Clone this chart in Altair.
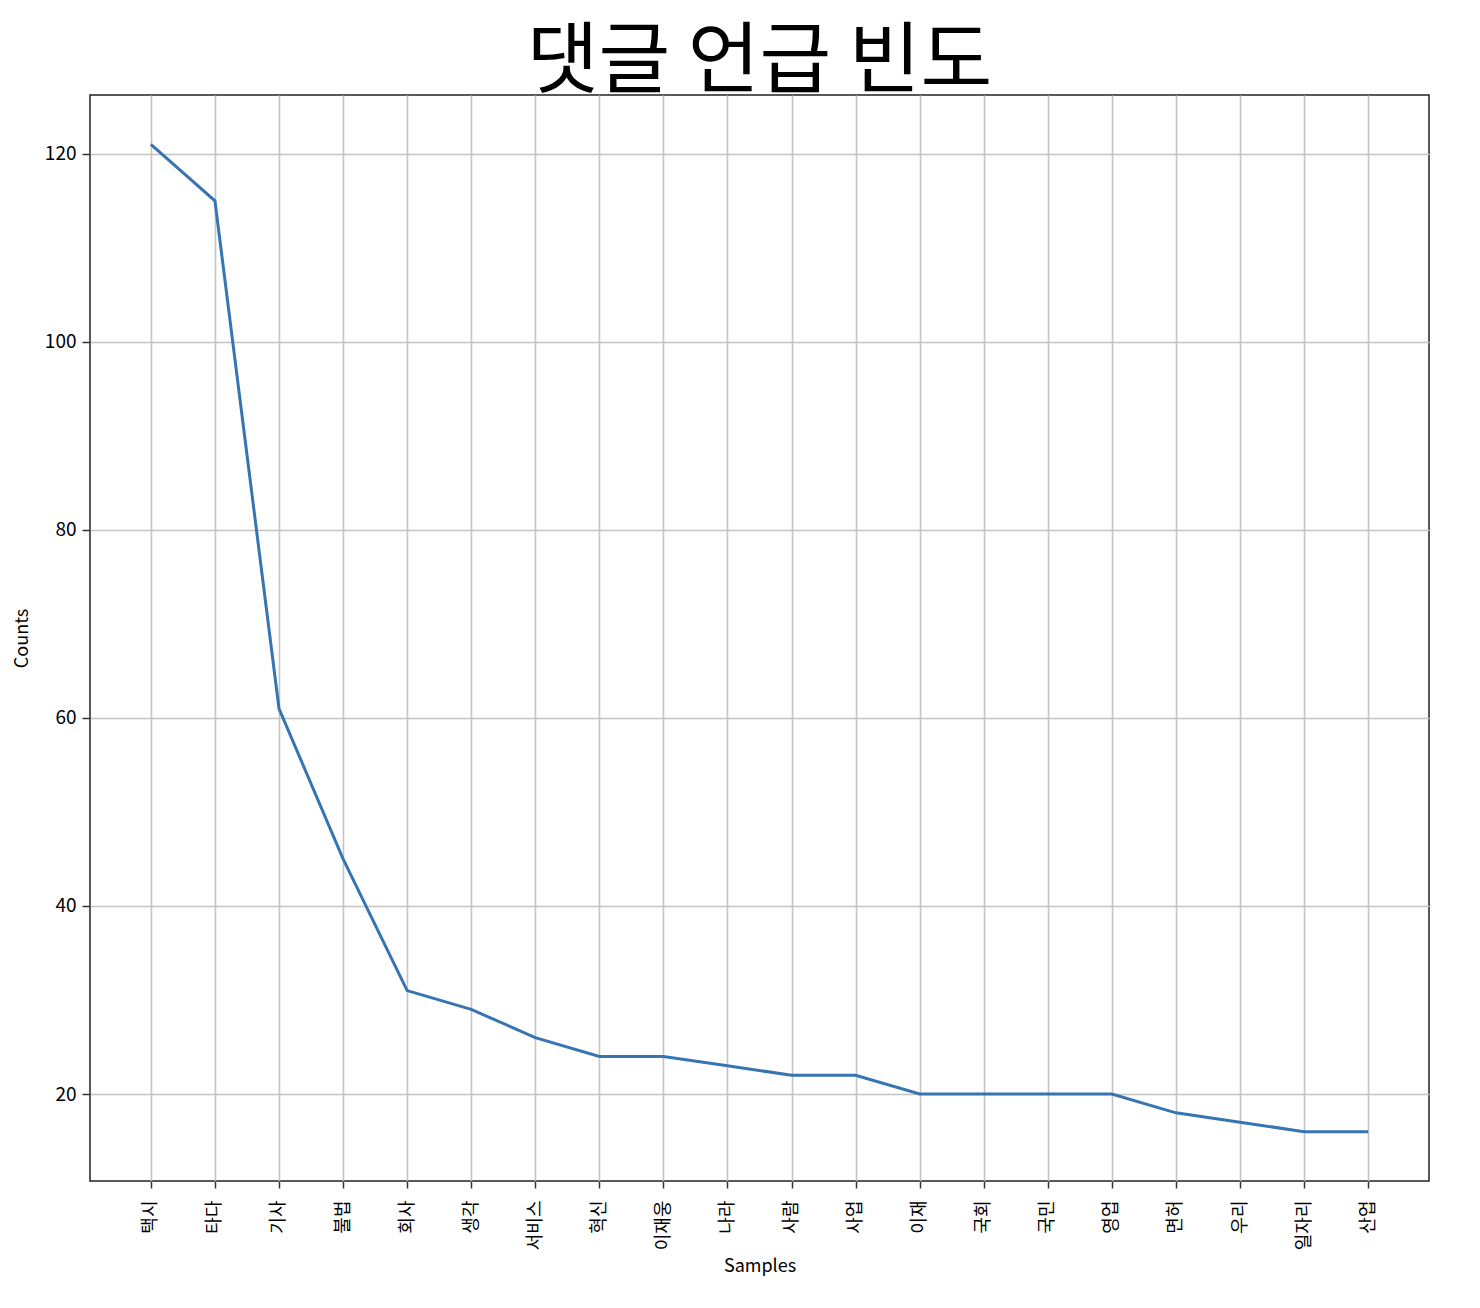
import altair as alt
import pandas as pd

words = ["택시", "타다", "기사", "불법", "회사", "생각", "서비스", "혁신", "이재웅", "나라",
         "사람", "사업", "이재", "국회", "국민", "영업", "면허", "우리", "일자리", "산업"]
counts = [121, 115, 61, 45, 31, 29, 26, 24, 24, 23, 22, 22, 20, 20, 20, 20, 18, 17, 16, 16]
y_ticks = [20, 40, 60, 80, 100, 120]

df = pd.DataFrame({"idx": list(range(len(words))), "word": words, "count": counts})

label_expr = "[" + ",".join("'" + w + "'" for w in words) + "][datum.value]"
FONT = "Noto Sans CJK KR"

chart = alt.Chart(df).mark_line(color="#3674b2", strokeWidth=3).encode(
    x=alt.X("idx:Q", title="Samples",
            scale=alt.Scale(domain=[-0.95, len(words) - 1 + 0.95], nice=False, zero=False),
            axis=alt.Axis(values=list(range(len(words))), labelExpr=label_expr,
                          labelAngle=270, labelAlign="right", labelBaseline="middle",
                          labelFontSize=18, titleFontSize=18, labelFont=FONT, titleFont=FONT,
                          labelColor="#000", titleColor="#000", titleFontWeight="normal",
                          tickSize=7, tickColor="#333", tickWidth=1.5, labelPadding=12,
                          titlePadding=8, domain=False, grid=True, gridColor="#c4c4c4",
                          gridWidth=1.6, labelOverlap=False, labelBound=False, labelFlush=False)),
    y=alt.Y("count:Q", title="Counts",
            scale=alt.Scale(domain=[10.75, 126.25], nice=False, zero=False),
            axis=alt.Axis(values=y_ticks, labelFontSize=19, titleFontSize=18,
                          labelFont=FONT, titleFont=FONT, labelColor="#000", titleColor="#000",
                          titleFontWeight="normal", tickSize=8, tickColor="#333", tickWidth=1.5,
                          labelPadding=6, titlePadding=13, domain=False, grid=True,
                          gridColor="#c4c4c4", gridWidth=1.6)),
).properties(
    width=1339, height=1086,
    title=alt.TitleParams("댓글 언급 빈도", fontSize=78, font=FONT, fontWeight="normal",
                          color="#000", anchor="middle", offset=-8),
    autosize=alt.AutoSizeParams(type="none"),
    padding={"left": 82, "top": 87, "right": 40, "bottom": 120},
).configure_view(stroke="#222", strokeWidth=1.5)

chart.save("out.html", embed_options={"renderer": "svg", "actions": False})
